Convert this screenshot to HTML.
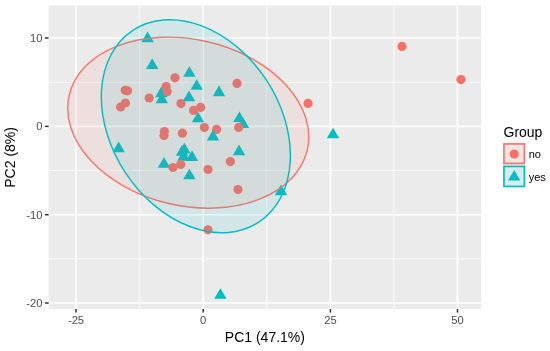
<!DOCTYPE html>
<html><head><meta charset="utf-8"><title>PCA plot</title>
<style>html,body{margin:0;padding:0;background:#fff}svg{display:block}text{font-family:"Liberation Sans",Arial,Helvetica,sans-serif}</style></head>
<body>
<svg width="550" height="351" viewBox="0 0 550 351">
<rect width="550" height="351" fill="#fff"/>
<rect x="48.6" y="5.4" width="432.4" height="303.6" fill="#EBEBEB"/>
<g stroke="#fff" stroke-width="0.8">
<line x1="139.6" x2="139.6" y1="5.4" y2="309"/>
<line x1="266.8" x2="266.8" y1="5.4" y2="309"/>
<line x1="393.9" x2="393.9" y1="5.4" y2="309"/>
<line y1="82.3" y2="82.3" x1="48.6" x2="481"/>
<line y1="170.4" y2="170.4" x1="48.6" x2="481"/>
<line y1="258.7" y2="258.7" x1="48.6" x2="481"/>
</g><g stroke="#fff" stroke-width="1.6">
<line x1="76" x2="76" y1="5.4" y2="309"/>
<line x1="203.2" x2="203.2" y1="5.4" y2="309"/>
<line x1="330.4" x2="330.4" y1="5.4" y2="309"/>
<line x1="457.5" x2="457.5" y1="5.4" y2="309"/>
<line y1="38" y2="38" x1="48.6" x2="481"/>
<line y1="126.35" y2="126.35" x1="48.6" x2="481"/>
<line y1="214.7" y2="214.7" x1="48.6" x2="481"/>
<line y1="303.05" y2="303.05" x1="48.6" x2="481"/>
</g>
<g fill="#FA7067">
<circle cx="125.2" cy="90.3" r="4.6"/>
<circle cx="127.6" cy="90.8" r="4.6"/>
<circle cx="125.4" cy="103" r="4.6"/>
<circle cx="120.6" cy="107" r="4.6"/>
<circle cx="149.2" cy="98" r="4.6"/>
<circle cx="175" cy="77.8" r="4.6"/>
<circle cx="181" cy="103.6" r="4.6"/>
<circle cx="193.6" cy="110.4" r="4.6"/>
<circle cx="200.6" cy="107.4" r="4.6"/>
<circle cx="164.4" cy="131.6" r="4.6"/>
<circle cx="164" cy="135.5" r="4.6"/>
<circle cx="182.4" cy="133.2" r="4.6"/>
<circle cx="204.4" cy="127.6" r="4.6"/>
<circle cx="208" cy="169.5" r="4.6"/>
<circle cx="208" cy="229.8" r="4.6"/>
<circle cx="237" cy="83.4" r="4.6"/>
<circle cx="216.6" cy="129.4" r="4.6"/>
<circle cx="230.4" cy="161.6" r="4.6"/>
<circle cx="238" cy="189.5" r="4.6"/>
<circle cx="308" cy="103.4" r="4.6"/>
<circle cx="402" cy="46.4" r="4.6"/>
<circle cx="461" cy="79.6" r="4.6"/>
</g><g fill="#00BFC4">
<polygon points="147.6,31.45 153.80,42.15 141.40,42.15"/>
<polygon points="152.2,58.25 158.40,68.95 146.00,68.95"/>
<polygon points="189.4,66.15 195.60,76.85 183.20,76.85"/>
<polygon points="196.7,79.15 202.90,89.85 190.50,89.85"/>
<polygon points="161.3,86.50 167.50,97.20 155.10,97.20"/>
<polygon points="161.8,92.50 168.00,103.20 155.60,103.20"/>
<polygon points="189,90.45 195.20,101.15 182.80,101.15"/>
<polygon points="198,111.65 204.20,122.35 191.80,122.35"/>
<polygon points="118.6,141.45 124.80,152.15 112.40,152.15"/>
<polygon points="164,157.05 170.20,167.75 157.80,167.75"/>
<polygon points="184.4,142.75 190.60,153.45 178.20,153.45"/>
<polygon points="182,145.10 188.20,155.80 175.80,155.80"/>
<polygon points="183.5,150.05 189.70,160.75 177.30,160.75"/>
<polygon points="192,150.35 198.20,161.05 185.80,161.05"/>
<polygon points="189.4,168.45 195.60,179.15 183.20,179.15"/>
<polygon points="219,85.45 225.20,96.15 212.80,96.15"/>
<polygon points="239.4,111.40 245.60,122.10 233.20,122.10"/>
<polygon points="243,117.40 249.20,128.10 236.80,128.10"/>
<polygon points="213,129.85 219.20,140.55 206.80,140.55"/>
<polygon points="239,144.45 245.20,155.15 232.80,155.15"/>
<polygon points="281,184.45 287.20,195.15 274.80,195.15"/>
<polygon points="333,127.65 339.20,138.35 326.80,138.35"/>
<polygon points="220.4,288.15 226.60,298.85 214.20,298.85"/>
</g>
<g fill="#FA7067">
<circle cx="166.2" cy="86.5" r="4.6"/>
<circle cx="167.1" cy="91.7" r="4.6"/>
<circle cx="238.7" cy="127.4" r="4.6"/>
<circle cx="173" cy="167.5" r="4.6"/>
<circle cx="180.7" cy="164.5" r="4.6"/>
</g>
<ellipse cx="188.24" cy="122.64" rx="122.16" ry="83.19" transform="rotate(12.8 188.24 122.64)" fill="#F8766D" fill-opacity="0.1" stroke="#F8766D" stroke-width="1.45"/>
<ellipse cx="195.84" cy="126.24" rx="84.35" ry="114.74" transform="rotate(-33.28 195.84 126.24)" fill="#00BFC4" fill-opacity="0.1" stroke="#00BFC4" stroke-width="1.45"/>
<g stroke="#333" stroke-width="1.5">
<line x1="76" x2="76" y1="309" y2="312.6"/>
<line x1="203.2" x2="203.2" y1="309" y2="312.6"/>
<line x1="330.4" x2="330.4" y1="309" y2="312.6"/>
<line x1="457.5" x2="457.5" y1="309" y2="312.6"/>
<line y1="38" y2="38" x1="45.0" x2="48.6"/>
<line y1="126.35" y2="126.35" x1="45.0" x2="48.6"/>
<line y1="214.7" y2="214.7" x1="45.0" x2="48.6"/>
<line y1="303.05" y2="303.05" x1="45.0" x2="48.6"/>
</g>
<g fill="#4D4D4D" font-size="11.2px">
<text x="76" y="324" text-anchor="middle">-25</text>
<text x="203.2" y="324" text-anchor="middle">0</text>
<text x="330.4" y="324" text-anchor="middle">25</text>
<text x="457.5" y="324" text-anchor="middle">50</text>
<text x="42.4" y="42.10" text-anchor="end">10</text>
<text x="42.4" y="130.45" text-anchor="end">0</text>
<text x="42.4" y="218.80" text-anchor="end">-10</text>
<text x="42.4" y="307.15" text-anchor="end">-20</text>
</g>
<g fill="#000" font-size="14px">
<text x="264.9" y="341.9" text-anchor="middle">PC1 (47.1%)</text>
<text transform="translate(15.4 157.4) rotate(-90)" text-anchor="middle">PC2 (8%)</text>
<text x="503.5" y="137.3">Group</text>
</g>
<rect x="503.1" y="143.1" width="22.1" height="44.2" fill="#F2F2F2"/>
<rect x="503.95" y="143.95" width="20.4" height="19.5" fill="#F8766D" fill-opacity="0.1" stroke="#F8766D" stroke-width="1.7"/>
<rect x="503.95" y="166.45" width="20.4" height="20" fill="#00BFC4" fill-opacity="0.1" stroke="#00BFC4" stroke-width="1.7"/>
<circle cx="514.2" cy="154" r="4.6" fill="#FA7067"/>
<polygon points="514.2,169.9 520.4,180.6 508,180.6" fill="#00BFC4"/>
<g fill="#000" font-size="11px"><text x="528.7" y="158.4">no</text><text x="528.7" y="180.8">yes</text></g>
</svg></body></html>
